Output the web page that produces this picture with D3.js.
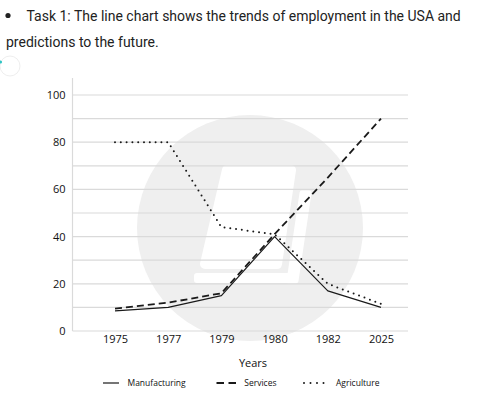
<!DOCTYPE html>
<html>
<head>
<meta charset="utf-8">
<script src="https://cdn.jsdelivr.net/npm/d3@7"></script>
<style>
  html, body { margin: 0; padding: 0; background: #fff; }
  svg { display: block; }
</style>
</head>
<body>
<svg id="chart" width="482" height="399"></svg>
<script>
// ---- data ----
const years = ["1975", "1977", "1979", "1980", "1982", "2025"];
const manufacturing = [8.5, 10, 15, 40, 17, 10];
const services = [9.5, 12, 16, 41, 65, 90];
const agriculture = [80, 80, 44, 41, 20, 11.5];
const yTicks = [0, 20, 40, 60, 80, 100];
const gridTicks = [0, 10, 20, 30, 40, 50, 60, 70, 80, 90, 100];
const seriesNames = ["Manufacturing", "Services", "Agriculture"];
const titleLines = [
  "Task 1: The line chart shows the trends of employment in the USA and",
  "predictions to the future."
];
const xTitle = "Years";

// ---- layout ----
const svg = d3.select("#chart");
const x = d3.scalePoint().domain(years).range([115, 381]);
const y = d3.scaleLinear().domain([0, 100]).range([331, 95]);
const plotLeft = 72.5, plotRight = 408, axisTop = 78;
const font = "'Open Sans', 'DejaVu Sans', sans-serif";

// header text
svg.append("circle").attr("cx", 8).attr("cy", 15.5).attr("r", 2.6).attr("fill", "#222");
const t1 = svg.append("text").attr("x", 26.5).attr("y", 20.5)
  .attr("font-family", "Roboto, sans-serif").attr("font-size", 14).attr("fill", "#222")
  .text(titleLines[0]);
const t2 = svg.append("text").attr("x", 6).attr("y", 46.5)
  .attr("font-family", "Roboto, sans-serif").attr("font-size", 14).attr("fill", "#222")
  .text(titleLines[1]);
// fit header lines to the measured reference widths
if (t1.node().getComputedTextLength() > 443) t1.attr("textLength", 443).attr("lengthAdjust", "spacingAndGlyphs");
// small UI artefact at the left edge
svg.append("circle").attr("cx", 10).attr("cy", 66).attr("r", 10)
  .attr("fill", "#fff").attr("stroke", "#eee").attr("stroke-width", 1);
svg.append("circle").attr("cx", 0.5).attr("cy", 62).attr("r", 1.6).attr("fill", "#2ec4c4");

// watermark
const wm = svg.append("g");
wm.append("circle").attr("cx", 250).attr("cy", 228).attr("r", 113).attr("fill", "#efefef");
const roundPoly = (pts) => "M" + pts.map(p => p.join(",")).join("L") + "Z";
wm.append("path")
  .attr("d", roundPoly([[227, 170], [291, 170], [277, 264], [205, 264]]))
  .attr("fill", "#fff").attr("stroke", "#fff").attr("stroke-width", 10).attr("stroke-linejoin", "round");
wm.append("path")
  .attr("d", roundPoly([[302, 193], [309, 193], [296, 281], [289, 281]]))
  .attr("fill", "#fff").attr("stroke", "#fff").attr("stroke-width", 5).attr("stroke-linejoin", "round");
wm.append("path")
  .attr("d", roundPoly([[197, 276], [294, 276], [294, 280], [197, 280]]))
  .attr("fill", "#fff").attr("stroke", "#fff").attr("stroke-width", 6).attr("stroke-linejoin", "round");

// gridlines
svg.append("g").selectAll("line").data(gridTicks).join("line")
  .attr("x1", plotLeft).attr("x2", plotRight)
  .attr("y1", d => y(d)).attr("y2", d => y(d))
  .attr("stroke", "#dadada").attr("stroke-width", 1.2);
// vertical axis line
svg.append("line").attr("x1", plotLeft).attr("x2", plotLeft)
  .attr("y1", axisTop).attr("y2", y(0))
  .attr("stroke", "#dadada").attr("stroke-width", 1.2);

// y axis labels
const yAxis = d3.axisLeft(y).tickValues(yTicks).tickSize(0).tickPadding(7);
const gy = svg.append("g").attr("transform", `translate(${plotLeft},0)`).call(yAxis);
gy.select(".domain").remove();
gy.selectAll("text").attr("font-family", font).attr("font-size", 11).attr("fill", "#111");

// x axis labels
const xAxis = d3.axisBottom(x).tickSize(0).tickPadding(4);
const gx = svg.append("g").attr("transform", `translate(0,${y(0)})`).call(xAxis);
gx.select(".domain").remove();
gx.selectAll("text").attr("font-family", font).attr("font-size", 11).attr("fill", "#111");

svg.append("text").attr("x", 253).attr("y", 367).attr("text-anchor", "middle")
  .attr("font-family", font).attr("font-size", 11).attr("fill", "#111").text(xTitle);

// lines
const line = d3.line().x((d, i) => x(years[i])).y(d => y(d));
const styles = [
  { w: 1.2, dash: null, cap: "butt" },
  { w: 1.8, dash: "7,4", cap: "butt" },
  { w: 2, dash: "0,5.8", cap: "round" }
];
[manufacturing, services, agriculture].forEach((s, k) => {
  svg.append("path").datum(s).attr("d", line)
    .attr("fill", "none").attr("stroke", "#1a1a1a")
    .attr("stroke-width", styles[k].w)
    .attr("stroke-dasharray", styles[k].dash)
    .attr("stroke-linecap", styles[k].cap)
    .attr("stroke-linejoin", "round");
});

// legend
const legend = [
  { x1: 103, x2: 119, tx: 127.5 },
  { x1: 216.5, x2: 236, tx: 244.3 },
  { x1: 304, x2: 325, tx: 336 }
];
legend.forEach((l, k) => {
  svg.append("line").attr("x1", l.x1).attr("x2", l.x2).attr("y1", 383).attr("y2", 383)
    .attr("stroke", "#1a1a1a").attr("stroke-width", styles[k].w)
    .attr("stroke-dasharray", k === 1 ? "7.5,4.5" : (k === 2 ? "0,6.5" : null))
    .attr("stroke-linecap", styles[k].cap);
  svg.append("text").attr("x", l.tx).attr("y", 385.5)
    .attr("font-family", font).attr("font-size", 8.5).attr("fill", "#111")
    .text(seriesNames[k]);
});
</script>
</body>
</html>
